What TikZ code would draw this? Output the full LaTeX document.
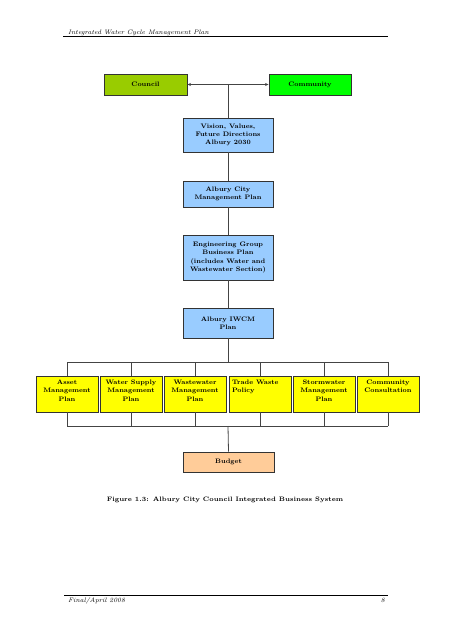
\documentclass[tikz,border=0pt]{standalone}
\usetikzlibrary{arrows.meta}
\definecolor{councilc}{HTML}{99CC00}
\definecolor{commc}{HTML}{00FF00}
\definecolor{bluec}{HTML}{99CCFF}
\definecolor{yellc}{HTML}{FFFF00}
\definecolor{budgc}{HTML}{FFCC99}
\definecolor{edgec}{HTML}{333333}
\definecolor{linec}{HTML}{444444}
\begin{document}
\begin{tikzpicture}[x=1pt,y=-1pt,
  box/.style={draw=edgec, line width=0.9pt, inner sep=0pt, align=center,
    font=\fontsize{6.5}{8.3}\selectfont\bfseries},
  topbox/.style={box, fill=bluec, minimum width=90, minimum height=#1},
  ybox/.style={box, fill=yellc, minimum width=62, minimum height=36},
  conn/.style={draw=linec, line width=0.8pt},
  rule/.style={draw=black, line width=0.9pt}]
\useasboundingbox (0,0) rectangle (452,640);
% header / footer
\draw[rule] (63,36) coordinate (h1) -- (388,36) coordinate (h2);
\node[anchor=base west, inner sep=0pt, font=\fontsize{6.5}{8}\selectfont\itshape] (htext) at (68,34) {Integrated Water Cycle Management Plan};
\draw[rule] (64,595) coordinate (f1) -- (388,595) coordinate (f2);
\node[anchor=base west, inner sep=0pt, font=\fontsize{6.5}{8}\selectfont\itshape] (ftext) at (68,602) {Final/April 2008};
\node[anchor=base east, inner sep=0pt, font=\fontsize{6.5}{8}\selectfont\itshape] (fpage) at (385,602) {8};
% top
\node[box, fill=councilc, minimum width=83, minimum height=21] (council) at (145.5,84.5) {Council};
\node[box, fill=commc, minimum width=82, minimum height=21] (community) at (310,84.5) {Community};
\coordinate (junc) at (228,84.5);
\node[topbox=34] (vision) at (228,135) {Vision, Values,\\Future Directions\\Albury 2030};
\node[topbox=26] (acmp) at (228,194) {Albury City\\Management Plan};
\node[topbox=45] (eng) at (228,257.5) {Engineering Group\\Business Plan\\(includes Water and\\Wastewater Section)};
\node[topbox=30] (iwcm) at (228,323) {Albury IWCM\\Plan};
\draw[conn, {Stealth[length=3.5pt,width=3pt]}-{Stealth[length=3.5pt,width=3pt]}] (council.east) -- (community.west);
\draw[conn] (vision.north) -- (junc);
\draw[conn] (vision.south) -- (acmp.north);
\draw[conn] (acmp.south) -- (eng.north);
\draw[conn] (eng.south) -- (iwcm.north);
% yellow row
\node[ybox] (asset) at (67,394) {\parbox[c][28pt][t]{60pt}{\centering Asset\\Management\\Plan}};
\node[ybox] (water) at (131,394) {\parbox[c][28pt][t]{60pt}{\centering Water Supply\\Management\\Plan}};
\node[ybox] (waste) at (195,394) {\parbox[c][28pt][t]{60pt}{\centering Wastewater\\Management\\Plan}};
\node[ybox] (trade) at (260,394) {\parbox[c][28pt][t]{56pt}{\raggedright Trade Waste\\Policy}};
\node[ybox] (storm) at (324,394) {\parbox[c][28pt][t]{60pt}{\centering Stormwater\\Management\\Plan}};
\node[ybox] (consult) at (388,394) {\parbox[c][28pt][t]{60pt}{\centering Community\\Consultation}};
\coordinate (busT) at (228,362);
\coordinate (busB) at (228,426);
\draw[conn] (iwcm.south) -- (busT);
\draw[conn] (asset.north |- busT) -- (consult.north |- busT);
\draw[conn] (asset.south |- busB) -- (consult.south |- busB);
\foreach \n in {asset,water,waste,trade,storm,consult}{
  \draw[conn] (\n.north) -- (\n.north |- busT);
  \draw[conn] (\n.south) -- (\n.south |- busB);
}
\node[box, fill=budgc, minimum width=91, minimum height=20] (budget) at (228.5,462) {Budget};
\draw[conn] (busB) -- (budget.north);
\node[anchor=base, inner sep=0pt, font=\fontsize{6.4}{8}\selectfont\bfseries] (caption) at (225,501) {Figure 1.3: Albury City Council Integrated Business System};
\end{tikzpicture}
\end{document}
